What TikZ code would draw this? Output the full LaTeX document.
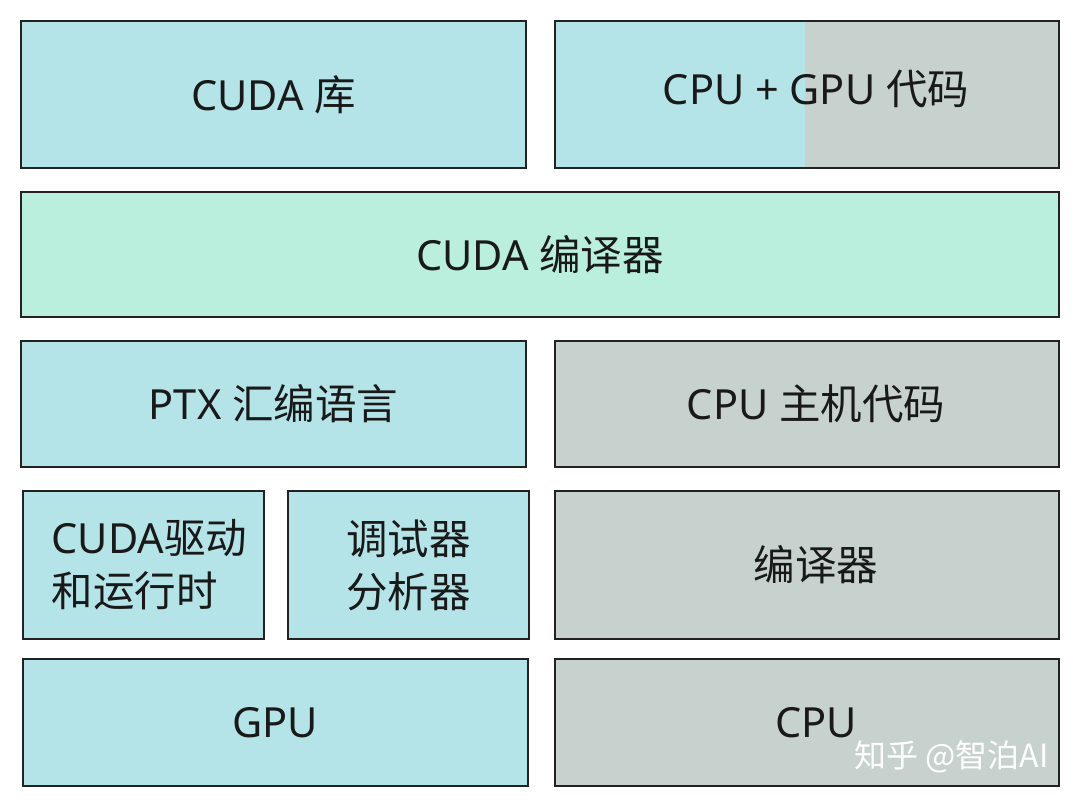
\documentclass[tikz,border=0pt]{standalone}
\usepackage{fontspec}
\setmainfont{Noto Sans}
\newfontfamily\cjk{Noto Sans CJK SC}
\definecolor{cyanbox}{HTML}{B4E4E7}
\definecolor{graybox}{HTML}{C7D1CE}
\definecolor{greenbox}{HTML}{B9EFDC}
\definecolor{edge}{HTML}{222222}
\begin{document}
\begin{tikzpicture}[x=1pt,y=-1pt,
  box/.style={draw=edge, line width=2pt, anchor=north west, inner sep=0pt,
    font=\fontsize{41.5}{53}\selectfont, text=black!90},
  gpu/.style={box, fill=cyanbox},
  cpu/.style={box, fill=graybox, execute at begin node={\hspace*{18pt}}}]
\useasboundingbox[fill=white] (0,0) rectangle (1080,803);
% row 1
\node[gpu, minimum width=505pt, minimum height=147pt] (lib) at (20,20) {CUDA {\cjk 库}};
\fill[cyanbox] (554,20) rectangle (805,167);
\fill[graybox] (805,20) rectangle (1058,167);
\node[box, minimum width=504pt, minimum height=147pt] (code) at (554,20) {};
\node[font=\fontsize{41.5}{53}\selectfont, text=black!90] (codetext) at (816,89) {CPU + GPU {\cjk 代码}};
% row 2
\node[box, fill=greenbox, minimum width=1038pt, minimum height=125pt] (nvcc) at (20,191) {CUDA {\cjk 编译器}};
% row 3
\node[gpu, minimum width=505pt, minimum height=126pt] (ptx) at (20,340) {PTX {\cjk 汇编语言}};
\node[cpu, minimum width=504pt, minimum height=126pt] (host) at (554,340) {CPU {\cjk 主机代码}};
% row 4
\node[gpu, minimum width=241pt, minimum height=148pt, align=left] (drv) at (22,490) {\hspace*{12pt}CUDA{\cjk 驱动}\\\hspace*{12pt}{\cjk 和运行时}};
\node[gpu, minimum width=241pt, minimum height=148pt, align=center] (dbg) at (287,490) {{\cjk 调试器}\\{\cjk 分析器}};
\node[cpu, minimum width=504pt, minimum height=148pt] (comp) at (554,490) {{\cjk 编译器}};
% row 5
\node[gpu, minimum width=505pt, minimum height=127pt] (gpu) at (22,658) {GPU};
\node[cpu, minimum width=504pt, minimum height=127pt] (cpu) at (554,658) {CPU};
% watermark
\node[font=\cjk\fontsize{32}{32}\selectfont, text=white, anchor=east] (wm) at (1052,757) {知乎 @智泊AI};
\end{tikzpicture}
\end{document}
